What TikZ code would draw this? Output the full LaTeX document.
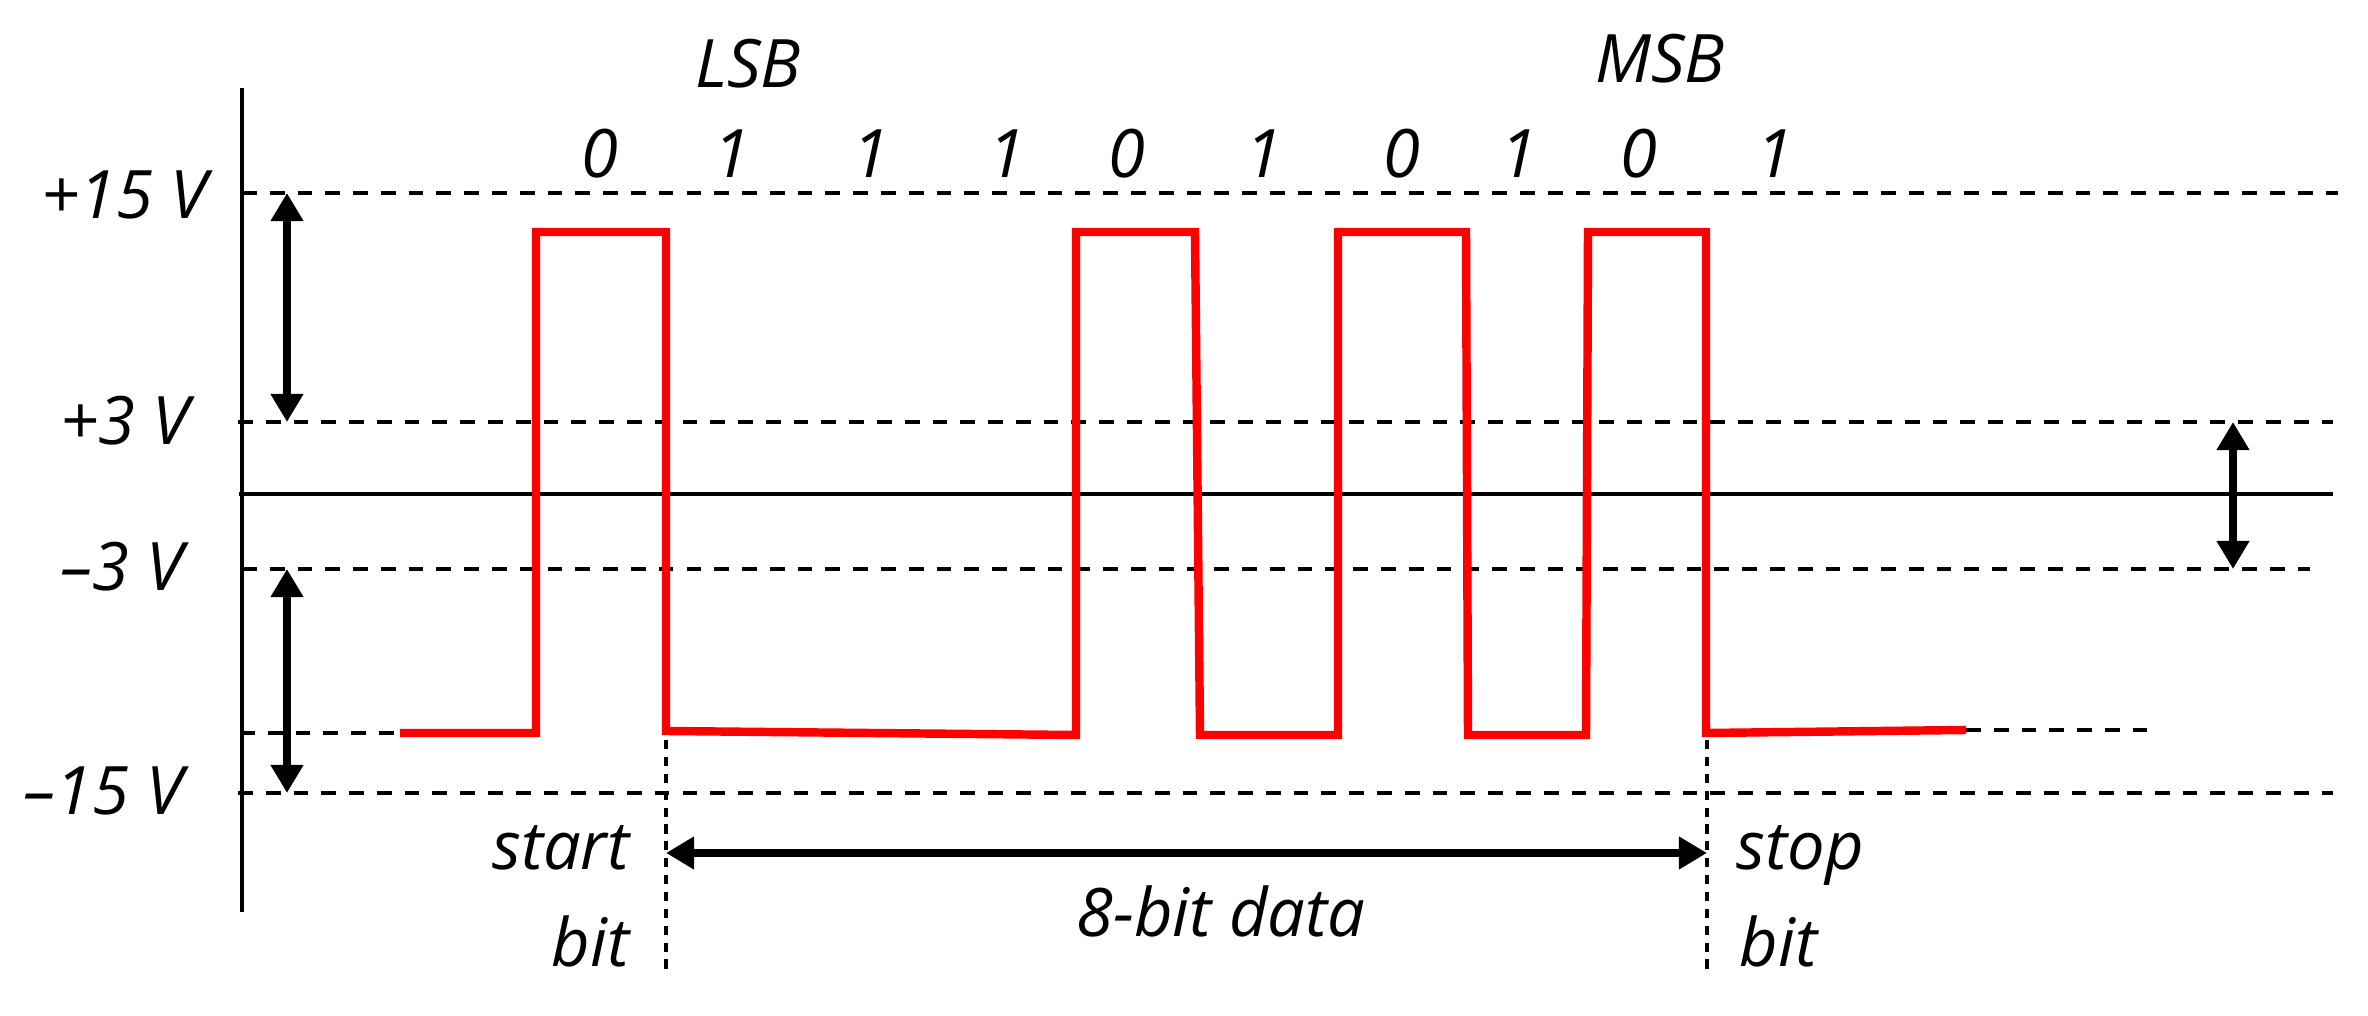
\documentclass[tikz,border=0pt]{standalone}
\usepackage{fontspec}
\setmainfont{Open Sans}
\usetikzlibrary{arrows.meta}

\tikzset{
  level/.style={black, line width=1.1pt, dash pattern=on 4.2pt off 3.7pt},
  marker/.style={black, line width=1pt, dash pattern=on 2.6pt off 2.2pt},
  span/.style={{Triangle[length=0.28cm,width=0.31cm]}-{Triangle[length=0.28cm,width=0.31cm]}, line width=2.2pt},
  signal/.style={red, line width=2.4pt, line join=miter},
  txt/.style={font=\itshape\fontsize{19}{22}\selectfont, inner sep=0pt}
}

\begin{document}
\begin{tikzpicture}[x=0.01cm, y=-0.01cm]
		\useasboundingbox (0,0) rectangle (2368,1016);

		% axis and levels
		\coordinate (axtop) at (242,88);
		\coordinate (axbot) at (242,912);
		\draw[line width=1.4pt] (axtop) -- (axbot);

		\coordinate (p15a) at (242,193);  \coordinate (p15b) at (2338,193);
		\coordinate (p3a)  at (238,422);  \coordinate (p3b)  at (2333,422);
		\coordinate (zeroa) at (239,494); \coordinate (zerob) at (2333,494);
		\coordinate (m3a)  at (242,569);  \coordinate (m3b)  at (2310,569);
		\coordinate (m15a) at (238,793);  \coordinate (m15b) at (2333,793);
		\coordinate (lowa) at (240,733);  \coordinate (lowb) at (400,733);
		\coordinate (lowc) at (1966,730); \coordinate (lowd) at (2147,730);

		\draw[level] (p15a) -- (p15b);
		\draw[level] (p3a) -- (p3b);
		\draw[line width=1.1pt] (zeroa) -- (zerob);
		\draw[level] (m3a) -- (m3b);
		\draw[level] (m15a) -- (m15b);
		\draw[level] (lowa) -- (lowb);
		\draw[level] (lowc) -- (lowd);

		\node[txt, anchor=base east] (v15p) at (208,219) {+15 V};
		\node[txt, anchor=base east] (v3p)  at (190,445) {+3 V};
		\node[txt, anchor=base east] (v3m)  at (184,591) {–3 V};
		\node[txt, anchor=base east] (v15m) at (184,815) {–15 V};

		% ranges
		\coordinate (r1a) at (287,193); \coordinate (r1b) at (287,422);
		\coordinate (r2a) at (287,569); \coordinate (r2b) at (287,793);
		\coordinate (r3a) at (2233,422); \coordinate (r3b) at (2233,569);
		\draw[span] (r1a) -- (r1b);
		\draw[span] (r2a) -- (r2b);
		\draw[span] (r3a) -- (r3b);

		% signal
		\draw[signal] (lowb) -- (536,733) -- (536,232) -- (666,232) -- (666,731)
			-- (1076,735) -- (1076,232) -- (1195,232) -- (1200,735) -- (1338,735)
			-- (1338,232) -- (1466,232) -- (1468,735) -- (1586,735) -- (1588,232)
			-- (1706,232) -- (1706,733) -- (lowc);

		% frame boundaries
		\coordinate (starttop) at (666,740);  \coordinate (startbot) at (666,973);
		\coordinate (stoptop) at (1707,740);  \coordinate (stopbot) at (1707,973);
		\draw[marker] (starttop) -- (startbot);
		\draw[marker] (stoptop) -- (stopbot);
		\coordinate (dataa) at (666,853); \coordinate (datab) at (1707,853);
		\draw[span] (dataa) -- (datab);

		\node[txt, anchor=base east] (start) at (630,870) {start};
		\node[txt, anchor=base east] (startbit) at (630,967) {bit};
		\node[txt, anchor=base west] (stop) at (1736,870) {stop};
		\node[txt, anchor=base west] (stopbit) at (1739,967) {bit};
		\node[txt, anchor=base] (data) at (1221,937) {8-bit data};

		% bit values
		\foreach \x/\b [count=\i] in {600/0, 732/1, 871/1, 1007/1, 1127/0, 1264/1, 1402/0, 1519/1, 1639/0, 1775/1}
			\node[txt, anchor=base] (bit\i) at (\x,178) {\b};
		\node[txt, anchor=base] (lsb) at (748,88) {LSB};
		\node[txt, anchor=base] (msb) at (1660,83) {MSB};
\end{tikzpicture}
\end{document}
